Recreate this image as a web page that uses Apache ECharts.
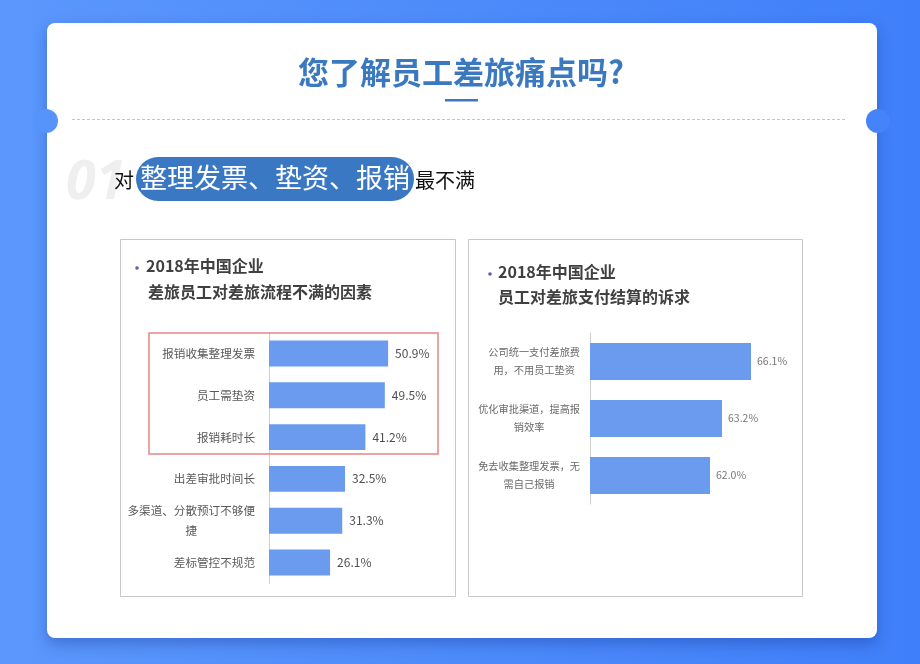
<!DOCTYPE html>
<html><head><meta charset="utf-8">
<script src="https://cdn.jsdelivr.net/npm/echarts@6/dist/echarts.min.js"></script>
<style>html,body{margin:0;padding:0;}#c{width:920px;height:664px;}</style>
</head><body><div id="c"></div>
<script>
const pageTitle = '您了解员工差旅痛点吗?';
const leftTitle1 = '2018年中国企业';
const leftTitle2 = '差旅员工对差旅流程不满的因素';
const rightTitle1 = '2018年中国企业';
const rightTitle2 = '员工对差旅支付结算的诉求';
const leftCats = ['报销收集整理发票','员工需垫资','报销耗时长','出差审批时间长','多渠道、分散预订不够便\n捷','差标管控不规范'];
const leftVals = [50.9,49.5,41.2,32.5,31.3,26.1];
const rightCats = ['公司统一支付差旅费\n用，不用员工垫资','优化审批渠道，提高报\n销效率','免去收集整理发票，无\n需自己报销'];
const rightVals = [66.1,63.2,62.0];

const FONT = '"Noto Sans CJK SC","Noto Sans",sans-serif';
const BAR = '#6b9bee';
const chart = echarts.init(document.getElementById('c'), null, {renderer:'canvas'});

function richLabel(v){ return v.split('\n').map(s => '{c|' + s + '}').join('\n'); }

const option = {
  backgroundColor: new echarts.graphic.LinearGradient(0,0,1,0,[{offset:0,color:'#5b97fc'},{offset:1,color:'#3f7ff9'}]),
  textStyle: {fontFamily: FONT},
  animation: false,
  graphic: [
    {type:'rect', z:0, shape:{x:47,y:23,width:830,height:615,r:8}, style:{fill:'#ffffff', shadowBlur:14, shadowOffsetY:6, shadowColor:'rgba(20,50,140,0.35)'}},
    {type:'circle', z:1, shape:{cx:46,cy:121,r:12}, style:{fill:'#5694fc'}},
    {type:'circle', z:1, shape:{cx:878,cy:121,r:12}, style:{fill:'#4483fa'}},
    {type:'line', z:1, shape:{x1:72,y1:119.5,x2:847,y2:119.5}, style:{stroke:'#c4c4c4', lineWidth:1, lineDash:[3,2]}},
    {type:'text', z:2, style:{x:461,y:72,text:pageTitle,textAlign:'center',textVerticalAlign:'middle',fontSize:31,fontWeight:'bold',fill:'#3a78c0',fontFamily:FONT}},
    {type:'rect', z:2, shape:{x:445,y:99,width:33,height:2.5}, style:{fill:'#3a78c0'}},
    {type:'text', z:2, style:{x:66,y:184,text:'01',textAlign:'left',textVerticalAlign:'middle',fontSize:54,fontStyle:'italic',fontWeight:'bold',fill:'#efefef',fontFamily:'"Open Sans",sans-serif'}},
    {type:'text', z:3, style:{x:114,y:180,text:'对',textAlign:'left',textVerticalAlign:'middle',fontSize:20,fill:'#111',fontFamily:FONT}},
    {type:'rect', z:3, shape:{x:136,y:157,width:278,height:44,r:22}, style:{fill:'#3b78c4'}},
    {type:'text', z:4, style:{x:275,y:178,text:'整理发票、垫资、报销',textAlign:'center',textVerticalAlign:'middle',fontSize:27,fill:'#ffffff',fontFamily:FONT}},
    {type:'text', z:3, style:{x:415,y:180,text:'最不满',textAlign:'left',textVerticalAlign:'middle',fontSize:20,fill:'#111',fontFamily:FONT}},
    {type:'rect', z:2, shape:{x:120.5,y:239.5,width:335,height:357}, style:{fill:'none', stroke:'#c8c8c8', lineWidth:1}},
    {type:'rect', z:2, shape:{x:468.5,y:239.5,width:334,height:357}, style:{fill:'none', stroke:'#c8c8c8', lineWidth:1}},
    {type:'circle', z:3, shape:{cx:137,cy:268,r:1.8}, style:{fill:'#5b5bb8'}},
    {type:'text', z:3, style:{x:146,y:266,text:leftTitle1,textAlign:'left',textVerticalAlign:'middle',fontSize:16,fontWeight:'bold',fill:'#404040',fontFamily:FONT}},
    {type:'text', z:3, style:{x:148,y:292,text:leftTitle2,textAlign:'left',textVerticalAlign:'middle',fontSize:16,fontWeight:'bold',fill:'#404040',fontFamily:FONT}},
    {type:'circle', z:3, shape:{cx:490,cy:274,r:1.8}, style:{fill:'#5b5bb8'}},
    {type:'text', z:3, style:{x:498,y:272,text:rightTitle1,textAlign:'left',textVerticalAlign:'middle',fontSize:16,fontWeight:'bold',fill:'#404040',fontFamily:FONT}},
    {type:'text', z:3, style:{x:498,y:297,text:rightTitle2,textAlign:'left',textVerticalAlign:'middle',fontSize:16,fontWeight:'bold',fill:'#404040',fontFamily:FONT}},
    {type:'rect', z:10, shape:{x:149,y:333,width:289,height:121}, style:{fill:'none', stroke:'#e98585', lineWidth:1.5}}
  ],
  grid: [
    {left:269, top:332.6, width:140.4, height:250.8, containLabel:false},
    {left:590, top:333, width:200, height:171, containLabel:false}
  ],
  xAxis: [
    {gridIndex:0, type:'value', min:0, max:60, show:false},
    {gridIndex:1, type:'value', min:50, max:70, show:false}
  ],
  yAxis: [
    {gridIndex:0, type:'category', data:leftCats, inverse:true,
     axisLine:{show:true, lineStyle:{color:'#cfcfcf'}}, axisTick:{show:false},
     axisLabel:{margin:14, align:'right', formatter:richLabel,
       rich:{c:{align:'center', fontSize:11.6, color:'#595959', lineHeight:20, fontFamily:FONT}}}},
    {gridIndex:1, type:'category', data:rightCats, inverse:true,
     axisLine:{show:true, lineStyle:{color:'#cfcfcf'}}, axisTick:{show:false},
     axisLabel:{margin:10, align:'right', formatter:richLabel,
       rich:{c:{align:'center', fontSize:10.2, color:'#6a6a6a', lineHeight:18, fontFamily:FONT}}}}
  ],
  series: [
    {type:'bar', xAxisIndex:0, yAxisIndex:0, data:leftVals, barCategoryGap:'38%',
     itemStyle:{color:BAR},
     label:{show:true, position:'right', distance:7, fontSize:12, color:'#505050', fontFamily:FONT,
       formatter:p => p.value.toFixed(1) + '%'}},
    {type:'bar', xAxisIndex:1, yAxisIndex:1, data:rightVals, barCategoryGap:'35%',
     itemStyle:{color:BAR},
     label:{show:true, position:'right', distance:6, fontSize:10.5, color:'#777777', fontFamily:FONT,
       formatter:p => p.value.toFixed(1) + '%'}}
  ]
};
chart.setOption(option);
</script>
</body></html>
